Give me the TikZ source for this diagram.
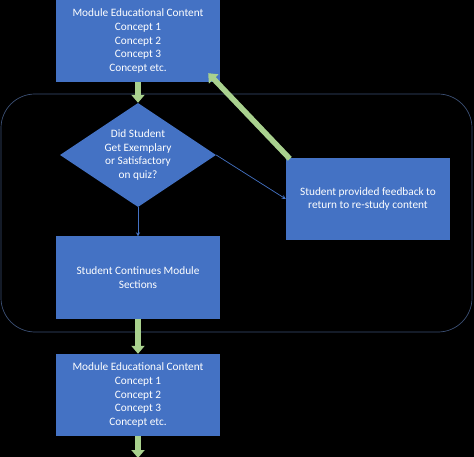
\documentclass[tikz,border=0pt]{standalone}
\usepackage{fontspec}
\setmainfont{Carlito}
\usepackage{tikz}
\usetikzlibrary{positioning,arrows.meta,shapes.geometric,calc}
\definecolor{caja}{HTML}{4472C4}
\definecolor{verdeclaro}{HTML}{A9D18E}
\definecolor{marco}{HTML}{3B4F73}

\begin{document}
\begin{tikzpicture}[
  x=1pt, y=1pt,
  font=\fontsize{11.3}{13.6}\selectfont,
  box/.style={fill=caja, text=white, align=center, minimum width=164pt, minimum height=82pt, inner sep=0pt},
  decision/.style={diamond, fill=caja, text=white, align=center, aspect=1.5, inner sep=0pt, minimum width=156pt, minimum height=104pt},
  flow/.style={-{Triangle[width=13pt,length=8pt]}, line width=5.5pt, verdeclaro},
  link/.style={-{Stealth[length=4pt,width=4pt]}, caja, line width=0.7pt}
]
  \useasboundingbox (0,0) rectangle (474,-457);
  \fill[black] (0,0) rectangle (474,-457);

  \node[draw=marco, line width=0.7pt, rounded corners=34pt, minimum width=471pt, minimum height=238pt, inner sep=0pt] (loop) at (236.5,-213) {};

  \node[box] (mod1) at (138,-41)
        {Module Educational Content\\Concept 1\\Concept 2\\Concept 3\\Concept etc.};
  \node[decision] (quiz) at (138,-155)
        {Did Student\\Get Exemplary\\or Satisfactory\\on quiz?};
  \node[box] (feedback) at (368,-199)
        {Student provided feedback to\\return to re-study content};
  \node[box] (cont) at (138,-277.5)
        {Student Continues Module\\Sections};
  \node[box] (mod2) at (138,-395)
        {Module Educational Content\\Concept 1\\Concept 2\\Concept 3\\Concept etc.};
  \coordinate (fin) at (138,-458);

  \draw[flow] (mod1.south) -- (quiz.north);
  \draw[link] (quiz.east) -- (feedback.west);
  \draw[link] (quiz.south) -- (cont.north);
  \draw[flow] ($(feedback.north west)+(4,-1)$) -- ($(mod1.south east)+(-12,9)$);
  \draw[flow] (cont.south) -- (mod2.north);
  \draw[flow] (mod2.south) -- (fin);
\end{tikzpicture}
\end{document}
